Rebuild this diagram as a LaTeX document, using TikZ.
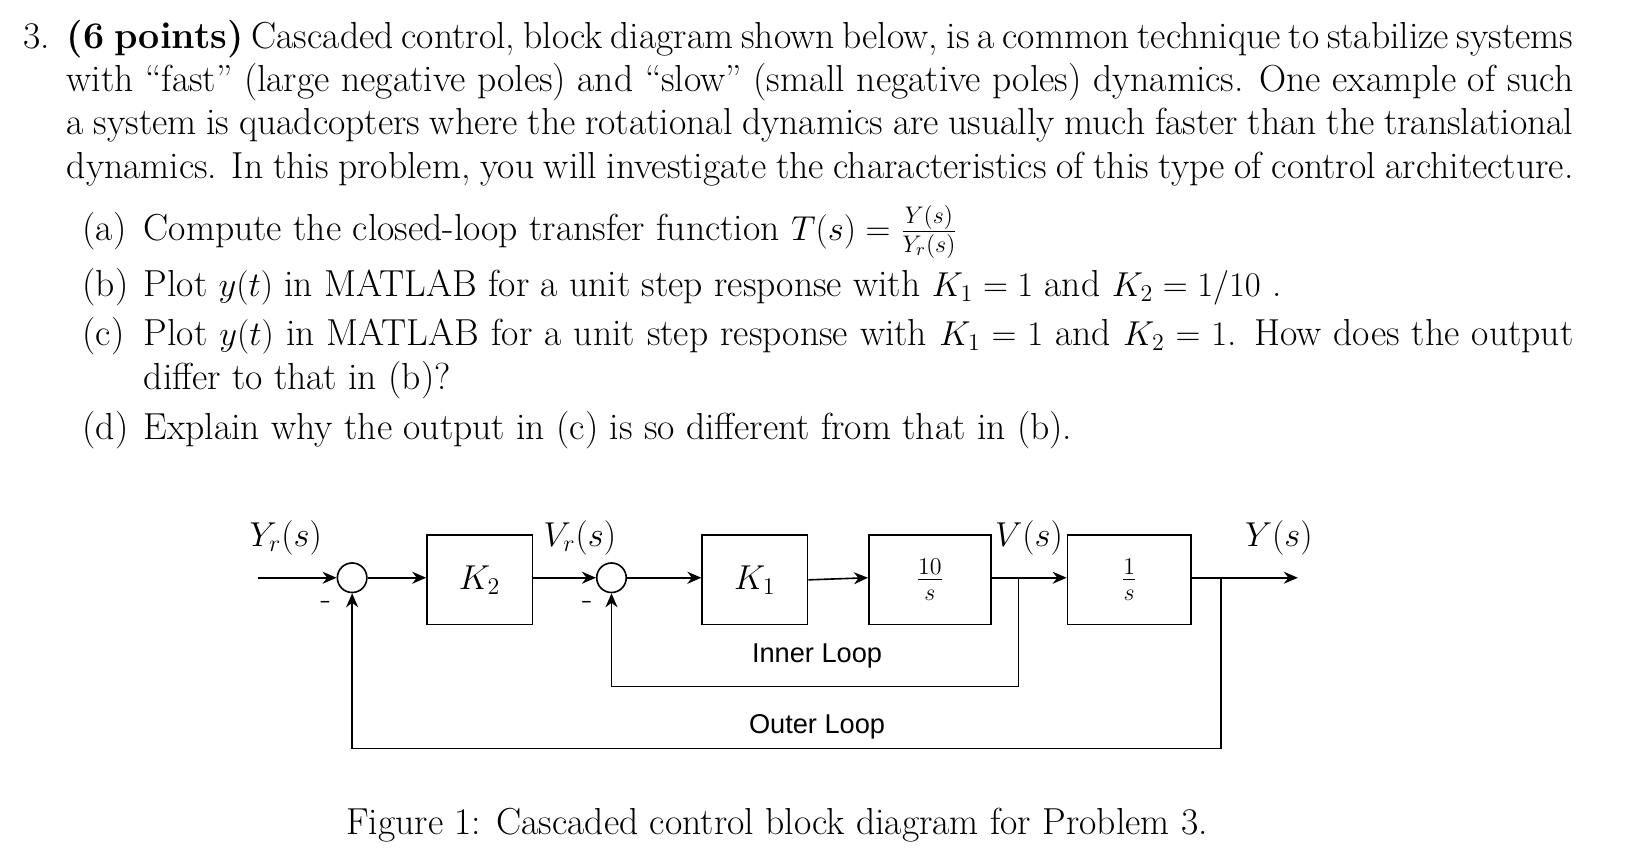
\documentclass[tikz,border=0pt]{standalone}
\usepackage{amsmath}
\usepackage{fontspec}
\newfontfamily\sansf{Liberation Sans}
\usetikzlibrary{arrows.meta}
\begin{document}
\begin{tikzpicture}[x=0.527pt,y=-0.527pt,
  blk/.style={draw,thick,minimum width=100*0.527pt,minimum height=85*0.527pt,inner sep=0pt,font=\fontsize{17}{20}\selectfont},
  sum/.style={draw,thick,circle,minimum size=28*0.527pt,inner sep=0pt},
  sig/.style={thick,-{Stealth[length=7pt,width=6pt]}},
  line/.style={thick},
  txt/.style={anchor=base west,inner sep=0pt,font=\fontsize{18.8}{21.6}\selectfont},
  ml/.style={font=\fontsize{17}{20}\selectfont},
  sl/.style={font=\sansf\fontsize{13.6}{16}\selectfont}]
\useasboundingbox (0,0) rectangle (1566,816);
% text
\node[txt] (n3) at (22,46) {3.};
\node[txt,text width=1429*0.527pt,align=justify] (p1) at (63,46) {\textbf{(6 points)} Cascaded control, block diagram shown below, is a common technique to stabilize systems\linebreak with ``fast'' (large negative poles) and ``slow'' (small negative poles) dynamics. One example of such\linebreak a system is quadcopters where the rotational dynamics are usually much faster than the translational\linebreak dynamics. In this problem, you will investigate the characteristics of this type of control architecture.};
\node[txt] (la) at (78,228) {(a)};
\node[txt] (ta) at (136,228) {Compute the closed-loop transfer function $T(s)=\frac{Y(s)}{Y_r(s)}$};
\node[txt] (lb) at (78,281) {(b)};
\node[txt] (tb) at (136,281) {Plot $y(t)$ in MATLAB for a unit step response with $K_1=1$ and $K_2=1/10$ .};
\node[txt] (lc) at (78,328) {(c)};
\node[txt,text width=1356*0.527pt,align=justify] (tc) at (136,328) {Plot $y(t)$ in MATLAB for a unit step response with $K_1=1$ and $K_2=1$. How does the output\linebreak differ to that in (b)?};
\node[txt] (ld) at (78,417) {(d)};
\node[txt] (td) at (136,417) {Explain why the output in (c) is so different from that in (b).};
\node[txt,anchor=base] (cap) at (737,792) {Figure 1: Cascaded control block diagram for Problem 3.};
% diagram
\coordinate (in) at (245,548);
\node[sum] (s1) at (334,548) {};
\node[blk] (k2) at (455,550) {$K_2$};
\node[sum] (s2) at (580,548) {};
\node[blk] (k1) at (716,550) {$K_1$};
\node[blk,minimum width=116*0.527pt] (g1) at (882,550) {$\frac{10}{s}$};
\node[blk,minimum width=117*0.527pt] (g2) at (1071,550) {$\frac{1}{s}$};
\coordinate (out) at (1231,548);
\coordinate (bi) at (966,548);
\coordinate (bo) at (1158,548);
\node[ml] (yr) at (271,510) {$Y_r(s)$};
\node[ml] (vr) at (550,510) {$V_r(s)$};
\node[ml] (vs) at (976,510) {$V(s)$};
\node[ml] (ys) at (1213,510) {$Y(s)$};
\node[ml] (m1) at (309,574) {-};
\node[ml] (m2) at (557,574) {-};
\node[sl] (il) at (775,622) {Inner Loop};
\node[sl] (ol) at (775,689) {Outer Loop};
\draw[sig] (in) -- (s1);
\draw[sig] (s1) -- (s1 -| k2.west);
\draw[sig] (k2.east |- s2) -- (s2);
\draw[sig] (s2) -- (s2 -| k1.west);
\draw[sig] (k1.east |- g1) -- (g1.west |- s2);
\draw[sig] (g1.east |- s2) -- (g2.west |- s2);
\draw[sig] (g2.east |- s2) -- (out);
\draw[line] (bi) -- (966,651) -- (580,651);
\draw[sig] (580,651) -- (s2);
\draw[line] (bo) -- (1158,710) -- (334,710);
\draw[sig] (334,710) -- (s1);
\end{tikzpicture}
\end{document}
